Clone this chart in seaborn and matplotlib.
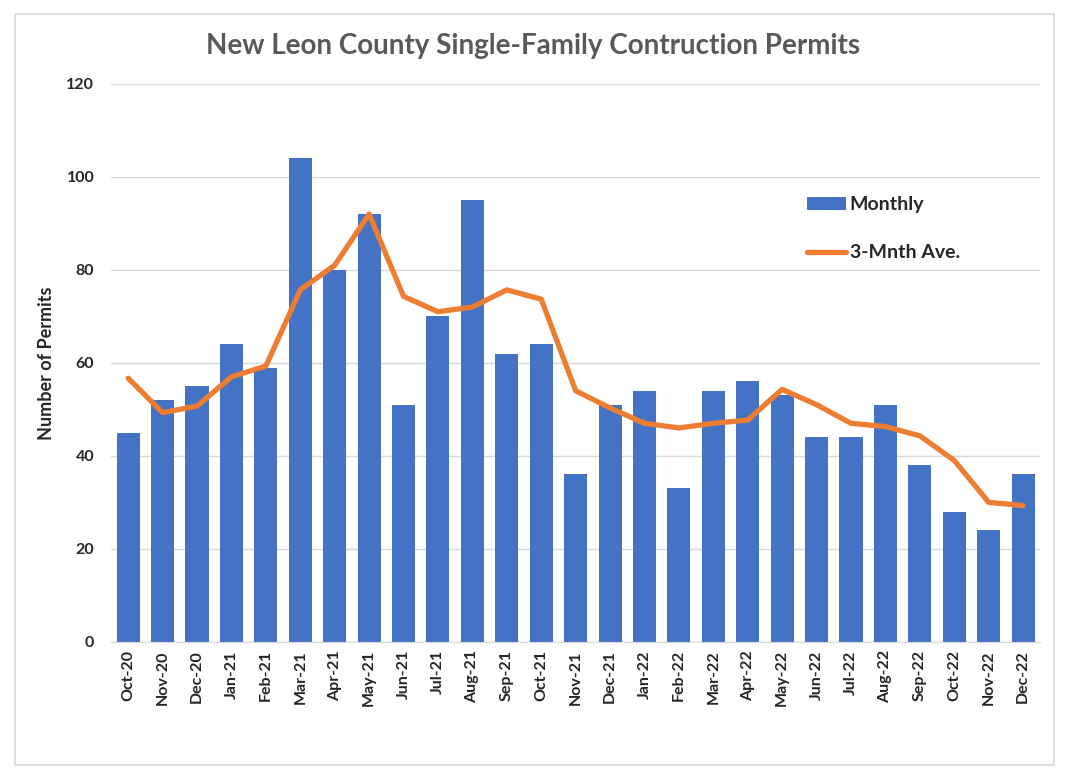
import numpy as np
import pandas as pd
import seaborn as sns
import matplotlib.pyplot as plt
from matplotlib.patches import Rectangle

months = ['Oct-20', 'Nov-20', 'Dec-20', 'Jan-21', 'Feb-21', 'Mar-21', 'Apr-21',
          'May-21', 'Jun-21', 'Jul-21', 'Aug-21', 'Sep-21', 'Oct-21', 'Nov-21',
          'Dec-21', 'Jan-22', 'Feb-22', 'Mar-22', 'Apr-22', 'May-22', 'Jun-22',
          'Jul-22', 'Aug-22', 'Sep-22', 'Oct-22', 'Nov-22', 'Dec-22']
monthly = [45, 52, 55, 64, 59, 104, 80, 92, 51, 70, 95, 62, 64, 36,
           51, 54, 33, 54, 56, 53, 44, 44, 51, 38, 28, 24, 36]
avg3 = [56.7, 49.3, 50.7, 57.0, 59.3, 75.7, 81.0, 92.0, 74.3, 71.0, 72.0, 75.7, 73.7, 54.0,
        50.3, 47.0, 46.0, 47.0, 47.7, 54.3, 51.0, 47.0, 46.3, 44.3, 39.0, 30.0, 29.3]

df = pd.DataFrame({'month': months, 'monthly': monthly, 'avg': avg3})
df['pos'] = np.arange(len(df))

sns.set_style('white')
plt.rcParams['font.family'] = ['Lato', 'DejaVu Sans']

fig = plt.figure(figsize=(10.67, 7.77), dpi=100)
ax = fig.add_axes([0.104, 0.174, 0.871, 0.718])

# 外框
fig.patches.append(Rectangle((0.014, 0.015), 0.974, 0.967, transform=fig.transFigure,
                             fill=False, edgecolor='#D9D9D9', linewidth=1.2))

sns.barplot(data=df, x='month', y='monthly', color='#4472C4', saturation=1,
            width=0.67, ax=ax, label='Monthly', zorder=2, linewidth=0)
sns.lineplot(data=df, x='pos', y='avg', color='#ED7D31', linewidth=3.8, ax=ax,
             label='3-Mnth Ave.', zorder=3)

ax.set_xlim(-0.5, len(months) - 0.5)
ax.set_ylim(0, 120)
ax.set_yticks(range(0, 121, 20))
ax.set_xticks(df['pos'])
ax.set_xticklabels(months, rotation=90, fontsize=11.5, fontweight='bold')
ax.tick_params(axis='y', labelsize=11.5, length=0, pad=12)
ax.tick_params(axis='x', length=0, pad=6)
for t in ax.get_yticklabels():
    t.set_fontweight('bold')

ax.grid(axis='y', color='#D9D9D9', linewidth=1)
ax.set_axisbelow(True)
for s in ['top', 'right', 'left']:
    ax.spines[s].set_visible(False)
ax.spines['bottom'].set_color('#D9D9D9')

ax.set_xlabel('')
ax.set_ylabel('Number of Permits', fontsize=13, fontweight='bold', labelpad=8)

fig.suptitle('New Leon County Single-Family Contruction Permits', x=0.5, y=0.958,
             fontsize=20, fontweight='bold', color='#595959')

handles, labels = ax.get_legend_handles_labels()
order = [labels.index('Monthly'), labels.index('3-Mnth Ave.')]
ax.legend([handles[i] for i in order], [labels[i] for i in order],
          loc='upper left', bbox_to_anchor=(0.73, 0.83), frameon=False,
          prop={'weight': 'bold', 'size': 14},
          labelspacing=1.6, handlelength=2.0, handletextpad=0.2)

fig.savefig('out.png', dpi=100)
